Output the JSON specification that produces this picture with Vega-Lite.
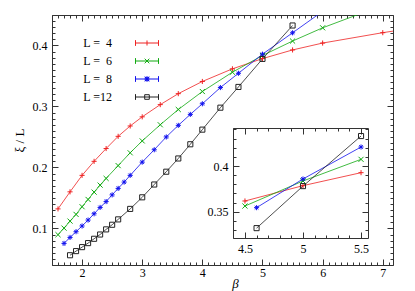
{
  "$schema": "https://vega.github.io/schema/vega-lite/v6.json",
  "autosize": "none",
  "padding": {"left": 52, "top": 15, "right": 22, "bottom": 26},
  "width": 341,
  "height": 250,
  "config": {
    "font": "Liberation Serif",
    "view": {"stroke": null},
    "axis": {"grid": false, "labelFont": "Liberation Serif", "labelFontSize": 12, "labelColor": "#000", "titleFont": "Liberation Serif", "titleFontSize": 13, "titleFontWeight": "normal", "titleColor": "#000", "tickColor": "#333", "domainColor": "#333", "domainWidth": 1, "tickWidth": 1, "labelOverlap": false, "labelFlush": false, "labelBound": false},
    "legend": {"labelFont": "Liberation Serif", "labelFontSize": 12, "labelColor": "#000"}
  },
  "data": {"values": [
      {"L": "4", "b": 1.6, "xi": 0.132}, {"L": "4", "b": 1.8, "xi": 0.160}, {"L": "4", "b": 2.0, "xi": 0.187}, {"L": "4", "b": 2.2, "xi": 0.210}, {"L": "4", "b": 2.4, "xi": 0.231}, {"L": "4", "b": 2.6, "xi": 0.251}, {"L": "4", "b": 2.8, "xi": 0.268}, {"L": "4", "b": 3.0, "xi": 0.283}, {"L": "4", "b": 3.3, "xi": 0.303}, {"L": "4", "b": 3.6, "xi": 0.321}, {"L": "4", "b": 4.0, "xi": 0.341}, {"L": "4", "b": 4.5, "xi": 0.3617}, {"L": "4", "b": 5.0, "xi": 0.3785}, {"L": "4", "b": 5.5, "xi": 0.3927}, {"L": "4", "b": 6.0, "xi": 0.404}, {"L": "4", "b": 7.0, "xi": 0.421}, {"L": "4", "b": 8.0, "xi": 0.436},
      {"L": "6", "b": 1.6, "xi": 0.0897}, {"L": "6", "b": 1.7, "xi": 0.1005}, {"L": "6", "b": 1.8, "xi": 0.112}, {"L": "6", "b": 1.9, "xi": 0.123}, {"L": "6", "b": 2.0, "xi": 0.1356}, {"L": "6", "b": 2.1, "xi": 0.1475}, {"L": "6", "b": 2.2, "xi": 0.1595}, {"L": "6", "b": 2.3, "xi": 0.171}, {"L": "6", "b": 2.4, "xi": 0.182}, {"L": "6", "b": 2.6, "xi": 0.203}, {"L": "6", "b": 2.8, "xi": 0.224}, {"L": "6", "b": 3.0, "xi": 0.2435}, {"L": "6", "b": 3.3, "xi": 0.270}, {"L": "6", "b": 3.6, "xi": 0.295}, {"L": "6", "b": 4.0, "xi": 0.3245}, {"L": "6", "b": 4.5, "xi": 0.3562}, {"L": "6", "b": 5.0, "xi": 0.3836}, {"L": "6", "b": 5.5, "xi": 0.4073}, {"L": "6", "b": 6.0, "xi": 0.429}, {"L": "6", "b": 7.0, "xi": 0.466},
      {"L": "8", "b": 1.7, "xi": 0.0754}, {"L": "8", "b": 1.8, "xi": 0.0852}, {"L": "8", "b": 1.9, "xi": 0.0946}, {"L": "8", "b": 2.0, "xi": 0.104}, {"L": "8", "b": 2.1, "xi": 0.1137}, {"L": "8", "b": 2.2, "xi": 0.124}, {"L": "8", "b": 2.3, "xi": 0.1344}, {"L": "8", "b": 2.4, "xi": 0.144}, {"L": "8", "b": 2.5, "xi": 0.155}, {"L": "8", "b": 2.6, "xi": 0.1656}, {"L": "8", "b": 2.7, "xi": 0.176}, {"L": "8", "b": 2.8, "xi": 0.187}, {"L": "8", "b": 3.0, "xi": 0.2087}, {"L": "8", "b": 3.2, "xi": 0.229}, {"L": "8", "b": 3.4, "xi": 0.250}, {"L": "8", "b": 3.6, "xi": 0.269}, {"L": "8", "b": 3.8, "xi": 0.287}, {"L": "8", "b": 4.0, "xi": 0.3044}, {"L": "8", "b": 4.3, "xi": 0.331}, {"L": "8", "b": 4.6, "xi": 0.3544}, {"L": "8", "b": 5.0, "xi": 0.3858}, {"L": "8", "b": 5.5, "xi": 0.4208}, {"L": "8", "b": 6.0, "xi": 0.456},
      {"L": "12", "b": 1.8, "xi": 0.056}, {"L": "12", "b": 1.9, "xi": 0.0628}, {"L": "12", "b": 2.0, "xi": 0.0693}, {"L": "12", "b": 2.1, "xi": 0.0759}, {"L": "12", "b": 2.2, "xi": 0.083}, {"L": "12", "b": 2.3, "xi": 0.090}, {"L": "12", "b": 2.4, "xi": 0.0984}, {"L": "12", "b": 2.5, "xi": 0.106}, {"L": "12", "b": 2.6, "xi": 0.1148}, {"L": "12", "b": 2.8, "xi": 0.132}, {"L": "12", "b": 3.0, "xi": 0.151}, {"L": "12", "b": 3.2, "xi": 0.172}, {"L": "12", "b": 3.4, "xi": 0.193}, {"L": "12", "b": 3.6, "xi": 0.2147}, {"L": "12", "b": 3.8, "xi": 0.238}, {"L": "12", "b": 4.0, "xi": 0.262}, {"L": "12", "b": 4.3, "xi": 0.298}, {"L": "12", "b": 4.6, "xi": 0.332}, {"L": "12", "b": 5.0, "xi": 0.378}, {"L": "12", "b": 5.5, "xi": 0.4328}
  ]},
  "resolve": {"scale": {"x": "independent", "y": "independent"}},
  "layer": [
    {
      "layer": [
        {
          "mark": {"type": "line", "clip": true, "strokeWidth": 0.8},
          "encoding": {
            "x": {"field": "b", "type": "quantitative", "scale": {"domain": [1.5, 7.17], "nice": false, "zero": false},
              "axis": {"orient": "bottom", "values": [1.5,1.6,1.7,1.8,1.9,2,2.1,2.2,2.3,2.4,2.5,2.6,2.7,2.8,2.9,3,3.1,3.2,3.3,3.4,3.5,3.6,3.7,3.8,3.9,4,4.1,4.2,4.3,4.4,4.5,4.6,4.7,4.8,4.9,5,5.1,5.2,5.3,5.4,5.5,5.6,5.7,5.8,5.9,6,6.1,6.2,6.3,6.4,6.5,6.6,6.7,6.8,6.9,7,7.1],
                "labelExpr": "abs(datum.value-round(datum.value))<0.001 ? format(datum.value,'d') : ''",
                "tickSize": {"condition": {"test": "abs(datum.value-round(datum.value))<0.001", "value": -6}, "value": -3},
                "labelPadding": 8, "title": "β", "titleFontStyle": "italic", "titleX": 183, "titlePadding": -4}},
            "y": {"field": "xi", "type": "quantitative", "scale": {"domain": [0.04, 0.45], "nice": false, "zero": false},
              "axis": {"orient": "left", "values": [0.04,0.05,0.06,0.07,0.08,0.09,0.1,0.11,0.12,0.13,0.14,0.15,0.16,0.17,0.18,0.19,0.2,0.21,0.22,0.23,0.24,0.25,0.26,0.27,0.28,0.29,0.3,0.31,0.32,0.33,0.34,0.35,0.36,0.37,0.38,0.39,0.4,0.41,0.42,0.43,0.44,0.45],
                "labelExpr": "abs(datum.value*10-round(datum.value*10))<0.001 ? format(datum.value,'.1f') : ''",
                "tickSize": {"condition": {"test": "abs(datum.value*10-round(datum.value*10))<0.001", "value": -6}, "value": -3},
                "labelPadding": 11, "title": "ξ / L", "titlePadding": 6}},
            "color": {"field": "L", "type": "nominal", "scale": {"domain": ["4", "6", "8", "12"], "range": ["#ee2222", "#11aa11", "#1111ee", "#222222"]},
              "legend": {"orient": "none", "legendX": 83, "legendY": 16, "title": null, "symbolSize": 25, "rowPadding": -5,
                "labelAlign": "right", "labelOffset": -47,
                "labelExpr": "datum.value=='12' ? 'L =12' : 'L =\u2007' + datum.value",
                "encode": {"symbols": {"update": {
                  "shape": {"signal": "datum.value=='4' ? 'M-1,0H1M-1,-0.25V0.25M1,-0.25V0.25M0,-0.22V0.22' : datum.value=='6' ? 'M-1,0H1M-1,-0.25V0.25M1,-0.25V0.25M-0.2,-0.2L0.2,0.2M-0.2,0.2L0.2,-0.2' : datum.value=='8' ? 'M-1,0H1M-1,-0.25V0.25M1,-0.25V0.25M-0.2,-0.2L0.2,0.2M-0.2,0.2L0.2,-0.2M0,-0.22V0.22M-0.15,-0.15H0.15V0.15H-0.15Z' : 'M-1,0H1M-1,-0.25V0.25M1,-0.25V0.25M-0.2,-0.2H0.2V0.2H-0.2Z'"},
                  "size": {"value": 529},
                  "strokeWidth": {"value": 1},
                  "fill": {"value": "transparent"}
                }}}}}
          }
        },
        {
          "mark": {"type": "point", "clip": true, "filled": false, "strokeWidth": 1, "size": 26, "opacity": 1},
          "encoding": {
            "x": {"field": "b", "type": "quantitative",
              "axis": {"orient": "top", "values": [1.5,1.6,1.7,1.8,1.9,2,2.1,2.2,2.3,2.4,2.5,2.6,2.7,2.8,2.9,3,3.1,3.2,3.3,3.4,3.5,3.6,3.7,3.8,3.9,4,4.1,4.2,4.3,4.4,4.5,4.6,4.7,4.8,4.9,5,5.1,5.2,5.3,5.4,5.5,5.6,5.7,5.8,5.9,6,6.1,6.2,6.3,6.4,6.5,6.6,6.7,6.8,6.9,7,7.1],
                "labels": false, "title": null,
                "tickSize": {"condition": {"test": "abs(datum.value-round(datum.value))<0.001", "value": -6}, "value": -3}}},
            "y": {"field": "xi", "type": "quantitative",
              "axis": {"orient": "right", "values": [0.04,0.05,0.06,0.07,0.08,0.09,0.1,0.11,0.12,0.13,0.14,0.15,0.16,0.17,0.18,0.19,0.2,0.21,0.22,0.23,0.24,0.25,0.26,0.27,0.28,0.29,0.3,0.31,0.32,0.33,0.34,0.35,0.36,0.37,0.38,0.39,0.4,0.41,0.42,0.43,0.44,0.45],
                "labels": false, "title": null,
                "tickSize": {"condition": {"test": "abs(datum.value*10-round(datum.value*10))<0.001", "value": -6}, "value": -3}}},
            "color": {"field": "L", "type": "nominal", "legend": null},
            "shape": {"condition": [{"test": "datum.L=='4'", "value": "M-1,0H1M0,-1V1"}, {"test": "datum.L=='6'", "value": "M-1,-1L1,1M-1,1L1,-1"}, {"test": "datum.L=='8'", "value": "M-1,0H1M0,-1V1M-0.7,-0.7L0.7,0.7M-0.7,0.7L0.7,-0.7"}], "value": "M-1,-1H1V1H-1Z"}
          }
        }
      ]
    },
    {
      "transform": [{"filter": "datum.b >= 4.39 && datum.b <= 5.56 && datum.xi >= 0.3212 && datum.xi <= 0.4416"}],
      "layer": [
        {
          "mark": {"type": "line", "strokeWidth": 0.8},
          "encoding": {
            "x": {"field": "b", "type": "quantitative", "scale": {"domain": [4.397, 5.56], "range": [181, 316], "nice": false, "zero": false},
              "axis": {"orient": "bottom", "offset": -27, "values": [4.4,4.5,4.6,4.7,4.8,4.9,5,5.1,5.2,5.3,5.4,5.5],
                "labelExpr": "abs(datum.value*2-round(datum.value*2))<0.001 ? format(datum.value,'~g') : ''",
                "tickSize": {"condition": {"test": "abs(datum.value*2-round(datum.value*2))<0.001", "value": -6}, "value": -3},
                "labelPadding": 11.5, "title": null}},
            "y": {"field": "xi", "type": "quantitative", "scale": {"domain": [0.3212, 0.4416], "range": [223, 113], "nice": false, "zero": false},
              "axis": {"orient": "left", "offset": -181, "values": [0.33,0.34,0.35,0.36,0.37,0.38,0.39,0.4,0.41,0.42,0.43,0.44],
                "labelExpr": "abs(datum.value*20-round(datum.value*20))<0.001 ? format(datum.value,'~g') : ''",
                "tickSize": {"condition": {"test": "abs(datum.value*20-round(datum.value*20))<0.001", "value": -6}, "value": -3},
                "labelPadding": 11, "title": null}},
            "color": {"field": "L", "type": "nominal", "legend": null}
          }
        },
        {
          "mark": {"type": "point", "filled": false, "strokeWidth": 1, "size": 26, "opacity": 1},
          "encoding": {
            "x": {"field": "b", "type": "quantitative",
              "axis": {"orient": "top", "offset": -113, "values": [4.4,4.5,4.6,4.7,4.8,4.9,5,5.1,5.2,5.3,5.4,5.5], "labels": false, "title": null,
                "tickSize": {"condition": {"test": "abs(datum.value*2-round(datum.value*2))<0.001", "value": -6}, "value": -3}}},
            "y": {"field": "xi", "type": "quantitative",
              "axis": {"orient": "right", "offset": -25, "values": [0.33,0.34,0.35,0.36,0.37,0.38,0.39,0.4,0.41,0.42,0.43,0.44], "labels": false, "title": null,
                "tickSize": {"condition": {"test": "abs(datum.value*20-round(datum.value*20))<0.001", "value": -6}, "value": -3}}},
            "color": {"field": "L", "type": "nominal", "legend": null},
            "shape": {"condition": [{"test": "datum.L=='4'", "value": "M-1,0H1M0,-1V1"}, {"test": "datum.L=='6'", "value": "M-1,-1L1,1M-1,1L1,-1"}, {"test": "datum.L=='8'", "value": "M-1,0H1M0,-1V1M-0.7,-0.7L0.7,0.7M-0.7,0.7L0.7,-0.7"}], "value": "M-1,-1H1V1H-1Z"}
          }
        }
      ]
    }
  ]
}
